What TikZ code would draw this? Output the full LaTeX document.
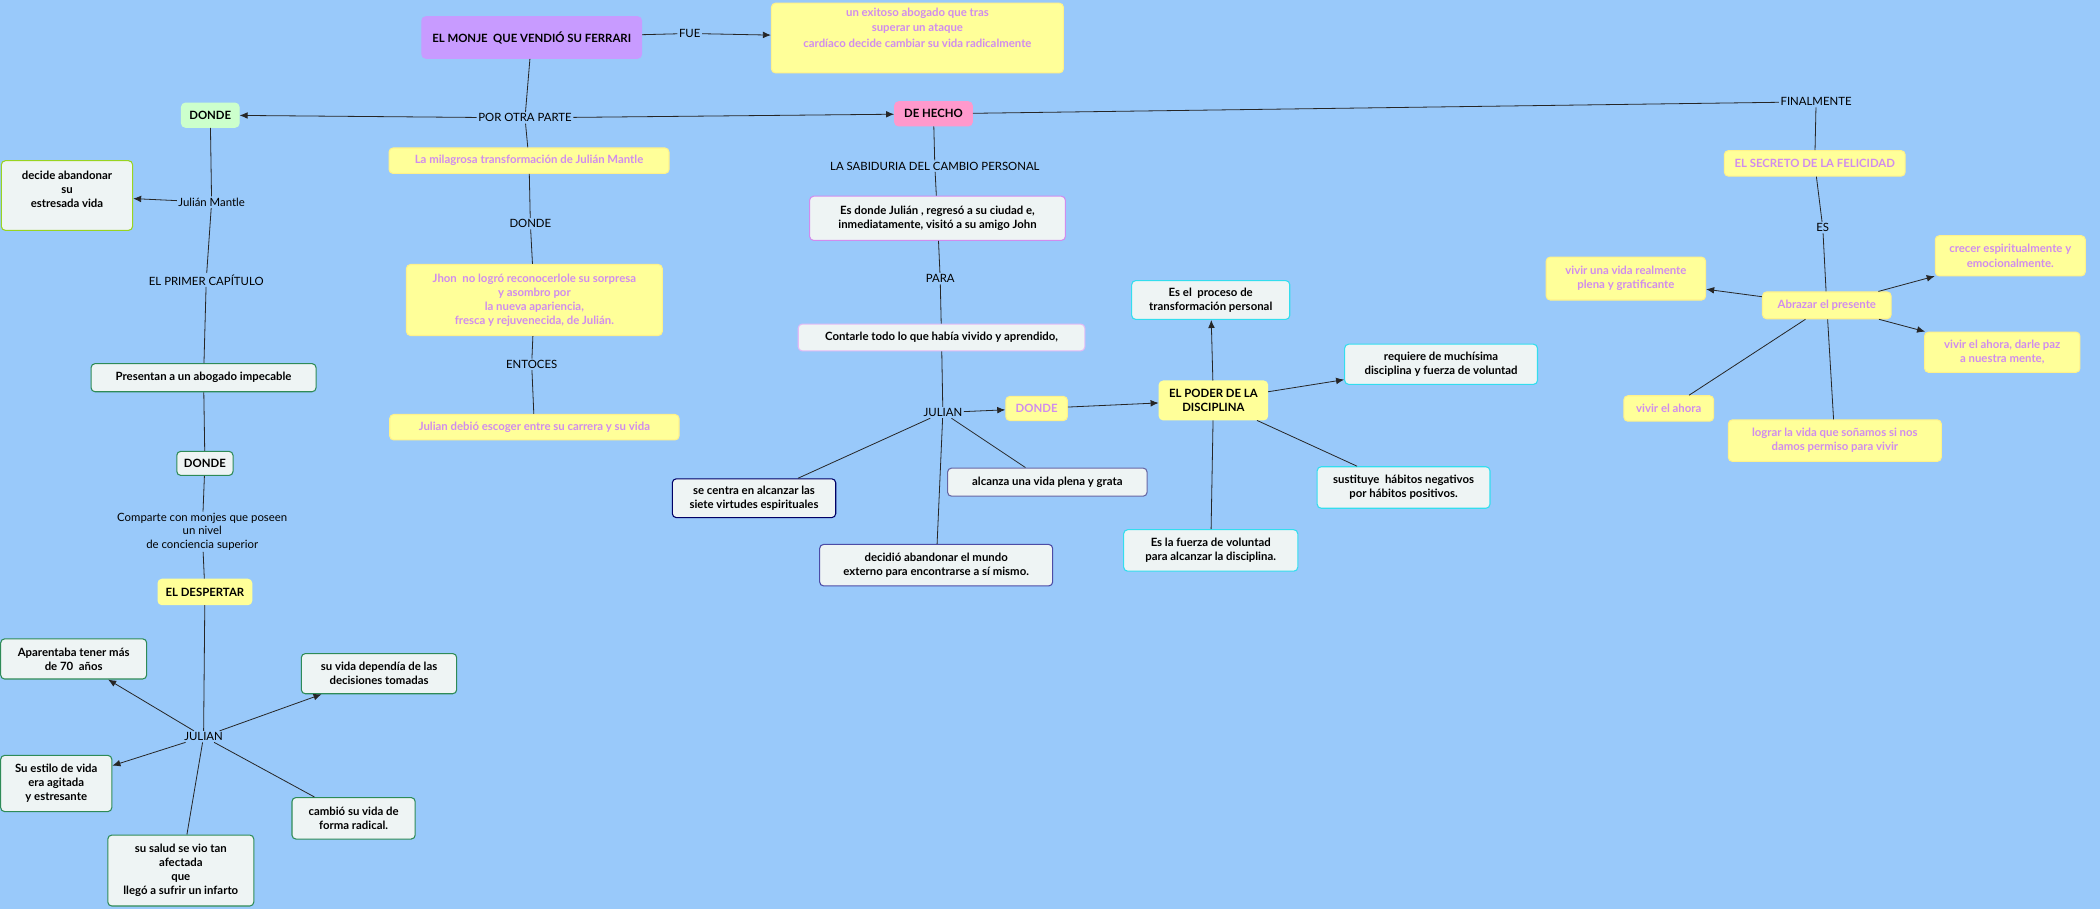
\documentclass[tikz,border=0pt]{standalone}
\usepackage{fontspec}
\setmainfont{Lato}
\usetikzlibrary{arrows.meta}
\definecolor{bg}{HTML}{99C9FA}
\definecolor{yel}{HTML}{FFFF99}
\definecolor{pnk}{HTML}{D08CEE}
\definecolor{wb}{HTML}{EEF4F4}
\definecolor{pur}{HTML}{C89BFF}
\definecolor{grn}{HTML}{CCFFCC}
\definecolor{rose}{HTML}{FF99CC}
\definecolor{dgreen}{HTML}{2E8B57}
\definecolor{cyanb}{HTML}{33DDEE}
\begin{document}
\begin{tikzpicture}[x=1pt,y=-1pt,
 box/.style={rounded corners=3pt,align=center,font=\fontsize{8.5}{10.5}\selectfont\bfseries,inner sep=2pt,line width=0.8pt},
 yb/.style={box,fill=yel,draw=yel!90!orange,text=pnk},
 wbx/.style={box,fill=wb,draw=#1},
 lab/.style={font=\fontsize{8.5}{10}\selectfont,inner sep=1pt,align=center},
 ln/.style={draw=black!85,line width=0.6pt},
 ar/.style={ln,-{Latex[length=6pt,width=5pt]}}]
\fill[bg] (0,0) rectangle (1568,679);
\useasboundingbox (0,0) rectangle (1568,679);
% top
\node[box,fill=pur,draw=pur,minimum width=164pt,minimum height=31pt,text depth=-8pt] (monje) at (397,28) {EL MONJE\ \ QUE VENDIÓ SU FERRARI};
\node[yb,minimum width=218pt,minimum height=52pt,anchor=north,font=\fontsize{8.5}{11.5}\selectfont\bfseries] (fue) at (685,2) {un exitoso abogado que tras\\superar un ataque\\cardíaco decide cambiar su vida radicalmente\\[4pt]};
\node[lab] (lfue) at (515,25) {FUE};
\node[box,fill=grn,draw=grn,text=black,minimum width=43pt,minimum height=18pt] (donde1) at (157,86) {DONDE};
\node[lab] (lpor) at (392,88) {POR OTRA PARTE};
\node[box,fill=rose,draw=rose,text=black,minimum width=58pt,minimum height=18pt] (hecho) at (697,85) {DE HECHO};
\node[lab] (lfin) at (1356,76) {FINALMENTE};
% middle column
\node[yb,minimum width=209pt,minimum height=19pt] (mil) at (395,120) {La milagrosa transformación de Julián Mantle};
\node[lab] (ldon) at (396,167) {DONDE};
\node[yb,minimum width=191pt,minimum height=53pt] (jhon) at (399,224) {Jhon\ \ no logró reconocerlole su sorpresa\\y asombro por\\la nueva apariencia,\\fresca y rejuvenecida, de Julián.};
\node[lab] (lent) at (397,272) {ENTOCES};
\node[yb,minimum width=216pt,minimum height=19pt] (deb) at (399,319) {Julian debió escoger entre su carrera y su vida};
% left column
\node[box,fill=wb,draw=yellow!60!green,minimum width=98pt,minimum height=52pt,text depth=10pt] (dec) at (50,146) {decide abandonar\\su\\estresada vida};
\node[lab] (ljm) at (158,151) {Julián Mantle};
\node[lab] (lcap) at (154,209) {EL PRIMER CAPÍTULO};
\node[wbx=dgreen,minimum width=168pt,minimum height=21pt] (pres) at (152,282) {Presentan a un abogado impecable};
\node[wbx=dgreen,minimum width=42pt,minimum height=18pt] (donde2) at (153,346) {DONDE};
\node[lab] (lcomp) at (151,397) {Comparte con monjes que poseen\\un nivel\\de conciencia superior};
\node[box,fill=yel,draw=yel,minimum width=70pt,minimum height=19pt] (desp) at (153,442) {EL DESPERTAR};
\node[lab] (ljul) at (152,550) {JULIAN};
\node[wbx=dgreen,minimum width=109pt,minimum height=30pt] (apa) at (55,492) {Aparentaba tener más\\de 70\ \ años};
\node[wbx=dgreen,minimum width=116pt,minimum height=30pt] (dep) at (283,503) {su vida dependía de las\\decisiones tomadas};
\node[wbx=dgreen,minimum width=83pt,minimum height=42pt] (est) at (42,585) {Su estilo de vida\\era agitada\\y estresante};
\node[wbx=dgreen,minimum width=92pt,minimum height=31pt] (camb) at (264,611) {cambió su vida de\\forma radical.};
\node[wbx=dgreen,minimum width=109pt,minimum height=53pt] (sal) at (135,650) {su salud se vio tan\\afectada\\que\\llegó a sufrir un infarto};
% centre column
\node[lab] (lsab) at (698,124) {LA SABIDURIA DEL CAMBIO PERSONAL};
\node[wbx=pnk,minimum width=191pt,minimum height=33pt] (esd) at (700,163) {Es donde Julián , regresó a su ciudad e,\\inmediatamente, visitó a su amigo John};
\node[lab] (lpara) at (702,208) {PARA};
\node[wbx=pnk!60,minimum width=214pt,minimum height=20pt] (cont) at (703,252) {Contarle todo lo que había vivido y aprendido,};
\node[lab] (ljul2) at (704,308) {JULIAN};
\node[yb,minimum width=46pt,minimum height=18pt] (donde3) at (774,305) {DONDE};
\node[wbx=blue!40!black,minimum width=122pt,minimum height=29pt] (cent) at (563,372) {se centra en alcanzar las\\siete virtudes espirituales};
\node[wbx=blue!40!black!60,minimum width=149pt,minimum height=21pt] (alc) at (782,360) {alcanza una vida plena y grata};
\node[wbx=blue!50!black!70,minimum width=174pt,minimum height=31pt] (dcd) at (699,422) {decidió abandonar el mundo\\externo para encontrarse a sí mismo.};
% poder
\node[box,fill=yel,draw=yel,minimum width=81pt,minimum height=29pt] (pod) at (906,299) {EL PODER DE LA\\DISCIPLINA};
\node[wbx=cyanb,minimum width=118pt,minimum height=29pt] (proc) at (904,224) {Es el\ \ proceso de\\transformación personal};
\node[wbx=cyanb,minimum width=144pt,minimum height=30pt] (req) at (1076,272) {requiere de muchísima\\disciplina y fuerza de voluntad};
\node[wbx=cyanb,minimum width=129pt,minimum height=31pt] (sus) at (1048,364) {sustituye\ \ hábitos negativos\\por hábitos positivos.};
\node[wbx=cyanb,minimum width=130pt,minimum height=31pt] (fza) at (904,411) {Es la fuerza de voluntad\\para alcanzar la disciplina.};
% right
\node[yb,minimum width=135pt,minimum height=19pt] (sec) at (1355,122) {EL SECRETO DE LA FELICIDAD};
\node[lab] (les) at (1361,170) {ES};
\node[yb,minimum width=96pt,minimum height=20pt] (abr) at (1364,228) {Abrazar el presente};
\node[yb,minimum width=119pt,minimum height=32pt] (viv1) at (1214,208) {vivir una vida realmente\\plena y gratificante};
\node[yb,minimum width=112pt,minimum height=30pt] (crec) at (1501,191) {crecer espiritualmente y\\emocionalmente.};
\node[yb,minimum width=116pt,minimum height=30pt] (viv2) at (1495,263) {vivir el ahora, darle paz\\a nuestra mente,};
\node[yb,minimum width=67pt,minimum height=19pt] (viv3) at (1246,305) {vivir el ahora};
\node[yb,minimum width=159pt,minimum height=31pt] (log) at (1370,329) {lograr la vida que soñamos si nos\\damos permiso para vivir};
% connectors
\draw[ln] (monje) -- (lfue); \draw[ar] (lfue) -- (fue);
\draw[ln] (monje) -- (lpor); \draw[ar] (lpor) -- (donde1); \draw[ar] (lpor) -- (hecho);
\draw[ln] (lpor) -- (mil); \draw[ln] (mil) -- (ldon); \draw[ln] (ldon) -- (jhon);
\draw[ln] (jhon) -- (lent); \draw[ln] (lent) -- (deb);
\draw[ln] (hecho) -- (lfin); \draw[ln] (lfin) -- (sec); \draw[ln] (sec) -- (les); \draw[ln] (les) -- (abr);
\draw[ar] (abr) -- (viv1); \draw[ar] (abr) -- (crec); \draw[ar] (abr) -- (viv2);
\draw[ln] (abr) -- (viv3); \draw[ln] (abr) -- (log);
\draw[ln] (donde1) -- (ljm); \draw[ar] (ljm) -- (dec);
\draw[ln] (ljm) -- (lcap); \draw[ln] (lcap) -- (pres); \draw[ln] (pres) -- (donde2);
\draw[ln] (donde2) -- (lcomp); \draw[ln] (lcomp) -- (desp); \draw[ln] (desp) -- (ljul);
\draw[ar] (ljul) -- (apa); \draw[ar] (ljul) -- (dep); \draw[ar] (ljul) -- (est);
\draw[ln] (ljul) -- (camb); \draw[ln] (ljul) -- (sal);
\draw[ln] (hecho) -- (lsab); \draw[ln] (lsab) -- (esd); \draw[ln] (esd) -- (lpara);
\draw[ln] (lpara) -- (cont); \draw[ln] (cont) -- (ljul2);
\draw[ar] (ljul2) -- (donde3); \draw[ar] (donde3) -- (pod);
\draw[ln] (ljul2) -- (cent); \draw[ln] (ljul2) -- (alc); \draw[ln] (ljul2) -- (dcd);
\draw[ar] (pod) -- (proc); \draw[ar] (pod) -- (req);
\draw[ln] (pod) -- (sus); \draw[ln] (pod) -- (fza);
\end{tikzpicture}
\end{document}
